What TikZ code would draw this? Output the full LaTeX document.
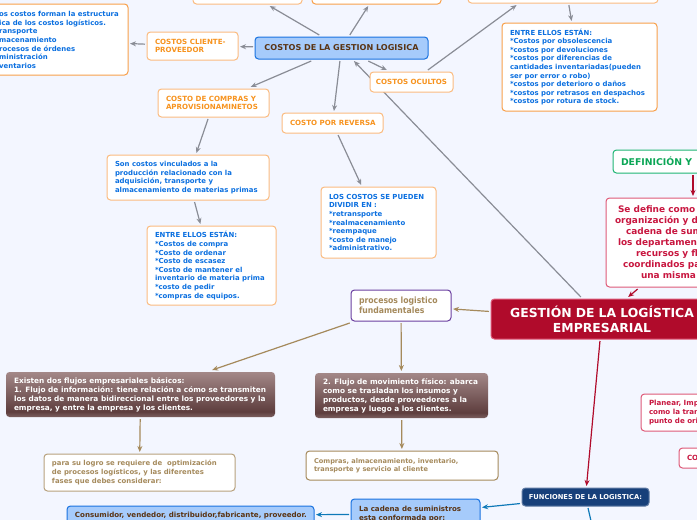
\documentclass[tikz,border=0pt]{standalone}
\usepackage{fontspec}
\setmainfont{DejaVu Sans}
\newfontfamily\condfont{DejaVu Sans Condensed}
\usetikzlibrary{arrows.meta}
\definecolor{bgc}{HTML}{F3F6FF}
\definecolor{orl}{HTML}{FBBB80}
\definecolor{ord}{HTML}{F8A04A}
\definecolor{ortx}{HTML}{F7931E}
\definecolor{bltx}{HTML}{0A6FE0}
\definecolor{brtx}{HTML}{A58A5C}
\definecolor{crim}{HTML}{B00B2B}
\definecolor{crimt}{HTML}{C8163F}
\definecolor{crimb}{HTML}{DE5A78}
\definecolor{grn}{HTML}{1FB574}
\definecolor{grnt}{HTML}{0AA655}
\definecolor{lblue}{HTML}{A6CBFB}
\definecolor{mblue}{HTML}{1A73E0}
\definecolor{dkbr}{HTML}{5A3413}
\definecolor{navy}{HTML}{17407A}
\definecolor{tealc}{HTML}{0E79B8}
\definecolor{lnk}{HTML}{8A8D96}
\definecolor{purp}{HTML}{6A3FA0}
\definecolor{bra}{HTML}{A38888}
\definecolor{brb}{HTML}{5E3E3E}
\definecolor{brc}{HTML}{7C5F5F}
\pgfdeclareverticalshading{brownbar}{100bp}{color(0bp)=(brc); color(25bp)=(brc); color(31bp)=(brb); color(75bp)=(bra); color(100bp)=(bra)}
\tikzset{
  boxbase/.style n args={2}{rectangle,rounded corners=3.5pt,line width=1pt,outer sep=2pt,inner xsep=8pt,inner ysep=0pt,
    text width=#1-16pt,minimum height=#2,align=flush left},
  txs/.style={font=\bfseries\fontsize{7.1}{8.6}\selectfont},
  txb/.style={font=\bfseries\fontsize{6.92}{8.6}\selectfont},
  orgbox/.style={draw=orl,fill=white,text=ortx,txs},
  blubox/.style={draw=ord,fill=white,text=bltx,txb},
  blulight/.style={draw=orl,fill=white,text=bltx,txb},
  brnbox/.style={draw=brtx,fill=white,text=brtx,font=\bfseries\fontsize{6.9}{8.6}\selectfont},
  crmbox/.style={draw=crimb,fill=white,text=crimt,txs},
  darkbar/.style={shade,shading=brownbar,draw=none,text=white,font=\bfseries\fontsize{7.35}{9}\selectfont},
  skybox/.style={draw=mblue,fill=lblue,text=dkbr,txs},
  lnkg/.style={draw=lnk,line width=1.2pt,-{Stealth[length=6pt,width=5pt]}},
  lnkb/.style={draw=brtx,line width=1.2pt,-{Stealth[length=6pt,width=5pt]}},
  lnkr/.style={draw=crim,line width=1.2pt,-{Stealth[length=6pt,width=5pt]}},
  lnkt/.style={draw=tealc,line width=1.2pt,-{Stealth[length=6pt,width=5pt]}},
}
\begin{document}
\begin{tikzpicture}[x=1pt,y=-1pt]
\useasboundingbox (0,0) rectangle (697,520);
\clip (0,0) rectangle (697,520);
\fill[bgc] (0,0) rectangle (697,520);

% top boxes, cut off by the edge
\node[boxbase={109pt}{22pt},orgbox] (topa) at (247.5,-7) {};
\node[boxbase={129pt}{22pt},blubox] (topb) at (376.5,-7) {};
\node[boxbase={190pt}{64pt},orgbox] (topc) at (563,-29) {};

\node[boxbase={208pt}{71pt},blubox] (left) at (24,39.5) {};
\node[anchor=west,inner sep=0pt,align=left,text=bltx,txb] (lefttxt) at (-1,40) {os costos forman la estructura\\ica de los costos logísticos.\\ransporte\\macenamiento\\rocesos de órdenes\\ministración\\ventarios};

\node[boxbase={91pt}{28pt},orgbox] (cliente) at (192.5,46) {COSTOS CLIENTE-\\PROVEEDOR};
\node[boxbase={173pt}{22pt},skybox,align=center,font=\bfseries\fontsize{8.1}{10}\selectfont] (gest) at (341.5,48) {COSTOS DE LA GESTION LOGISICA};
\node[boxbase={111pt}{28pt},orgbox] (compras) at (213.5,103) {COSTO DE COMPRAS Y\\APROVISIONAMINETOS};
\node[boxbase={101pt}{20pt},orgbox,inner xsep=3pt,text width=95pt] (reversa) at (332.5,123) {\hspace*{5pt}COSTO POR REVERSA};
\node[boxbase={155pt}{88pt},blubox] (entreb) at (579.5,67) {ENTRE ELLOS ESTÁN:\\{}*Costos por obsolescencia\\{}*costos por devoluciones\\{}*costos por diferencias de\\cantidades inventariadas(pueden\\ser por error o robo)\\{}*costos por deterioro o daños\\{}*costos por retrasos en despachos\\{}*costos por rotura de stock.};
\node[boxbase={162pt}{45pt},blulight] (son) at (188,177.5) {Son costos vinculados a la\\producción relacionado con la\\adquisición, transporte y\\almacenamiento de materias primas};
\node[boxbase={129pt}{79pt},blulight] (entrea) at (211.5,265.5) {ENTRE ELLOS ESTÁN:\\{}*Costos de compra\\{}*Costo de ordenar\\{}*Costo de escasez\\{}*Costo de mantener el\\inventario de materia prima\\{}*costo de pedir\\{}*compras de equipos.};
\node[boxbase={115pt}{71pt},blulight] (losc) at (378.5,222.5) {LOS COSTOS SE PUEDEN\\DIVIDIR EN :\\{}*retransporte\\{}*realmacenamiento\\{}*reempaque\\{}*costo de manejo\\{}*administrativo.};

\node[boxbase={100pt}{31pt},draw=purp,fill=white,text=brtx,font=\condfont\bfseries\fontsize{8.6}{10}\selectfont] (proc) at (401,305.5) {procesos logistico\\fundamentales};
\node[boxbase={269pt}{45pt},darkbar] (existen) at (140.5,394.5) {Existen dos flujos empresariales básicos:\\1. Flujo de información: tiene relación a cómo se transmiten\\los datos de manera bidireccional entre los proveedores y la\\empresa, y entre la empresa y los clientes.};
\node[boxbase={173pt}{45pt},darkbar] (flujo) at (401.5,395.5) {2. Flujo de movimiento físico: abarca\\como se trasladan los insumos y\\productos, desde proveedores a la\\empresa y luego a los clientes.};
\node[boxbase={191pt}{37pt},brnbox,draw=brtx!80] (para) at (139.5,472.5) {para su logro se requiere de\ \ optimización\\de procesos logísticos, y las diferentes\\fases que debes considerar:};
\node[boxbase={192pt}{29pt},brnbox,font=\bfseries\fontsize{6.6}{8.6}\selectfont] (compr) at (402,465.5) {Compras, almacenamiento, inventario,\\transporte y servicio al cliente};

\node[boxbase={247pt}{19pt},skybox,inner xsep=3pt,text width=241pt] (consu) at (190.5,515.5) {\hspace*{5pt}\raisebox{-1.5pt}{Consumidor, vendedor, distribuidor,fabricante, proveedor.}};
\node[boxbase={129pt}{30pt},skybox] (cadena) at (415.5,514) {La cadena de suministros\\esta conformada por:};
\node[boxbase={127pt}{18pt},draw=navy!70,fill=navy,text=white,font=\bfseries\fontsize{6.75}{8}\selectfont,align=center,inner xsep=2pt,text width=123pt] (func) at (585.5,497) {FUNCIONES DE LA LOGISTICA:};
\coordinate (funcout) at (594,534);

\node[boxbase={222pt}{40pt},draw=crimb,fill=crim,text=white,font=\bfseries\fontsize{12.4}{15}\selectfont,align=center] (main) at (602,319) {GESTIÓN DE LA LOGÍSTICA\\EMPRESARIAL};
\node[boxbase={174pt}{89pt},crmbox,font=\bfseries\fontsize{8.95}{11}\selectfont] (sedef) at (693,242.5) {\hspace*{4pt}Se define como\\\hspace*{1pt}organización y d\\\hspace*{12pt}cadena de sum\\\hspace*{4pt}los departamen\\\hspace*{22pt}recursos y fl\\\hspace*{9pt}coordinados pa\\\hspace*{27pt}una misma};
\node[boxbase={160pt}{23pt},draw=grn,fill=white,text=grnt,font=\bfseries\fontsize{9.3}{11}\selectfont] (defi) at (693,161.5) {DEFINICIÓN Y};
\node[boxbase={120pt}{37pt},crmbox] (plan) at (701,412.5) {Planear, Imp\\como la tran\\punto de ori};
\node[boxbase={60pt}{20pt},crmbox] (co) at (709,458) {CO};

% connectors
\draw[lnkg] (main) -- (gest);
\node[boxbase={83pt}{20pt},orgbox,font=\bfseries\fontsize{7.1}{8}\selectfont,align=center,inner xsep=2pt,text width=79pt] (ocultos) at (411.5,82) {COSTOS OCULTOS};
\draw[lnkg] (gest) -- (topa);
\draw[lnkg] (gest) -- (topb);
\draw[lnkg] (gest) -- (cliente);
\draw[lnkg] (cliente) -- (left);
\draw[lnkg] (gest) -- (compras);
\draw[lnkg] (gest) -- (reversa);
\draw[lnkg] (gest) -- (ocultos);
\draw[lnkg] (ocultos) -- (topc);
\draw[lnkg] (topc) -- (entreb);
\draw[lnkg] (compras) -- (son);
\draw[lnkg] (son) -- (entrea);
\draw[lnkg] (reversa) -- (losc);
\draw[lnkb] (main) -- (proc);
\draw[lnkb] (proc) -- (existen);
\draw[lnkb] (proc) -- (flujo);
\draw[lnkb] (existen) -- (para);
\draw[lnkb] (flujo) -- (compr);
\draw[lnkr] (main) -- (func);
\draw[lnkr] (sedef) -- (main);
\draw[lnkr] (defi) -- (sedef);
\draw[lnkt] (func) -- (cadena);
\draw[lnkt] (cadena) -- (consu);
\draw[lnkt,-] (func) -- (funcout);
\end{tikzpicture}
\end{document}
